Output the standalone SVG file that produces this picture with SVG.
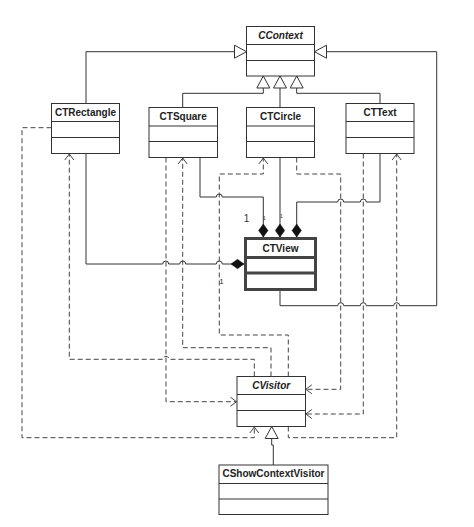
<svg xmlns="http://www.w3.org/2000/svg" width="474" height="527" viewBox="0 0 474 527">
<defs>
<style>
.box{fill:#fff;stroke:#333;stroke-width:1}
.thick{fill:#fff;stroke:#444;stroke-width:3}
.div{stroke:#333;stroke-width:1}
.divt{stroke:#444;stroke-width:3}
.t{font-family:"Liberation Sans",Arial,sans-serif;font-size:10px;font-weight:bold;fill:#222;text-anchor:middle}
.it{font-style:italic}
.lbl{font-family:"Liberation Sans",Arial,sans-serif;fill:#333;text-anchor:middle}
.sol{fill:none;stroke:#333;stroke-width:1}
.dash{fill:none;stroke:#444;stroke-width:1;stroke-dasharray:5,3}
</style>
<marker id="tri" markerUnits="userSpaceOnUse" viewBox="-14 -8 16 16" markerWidth="16" markerHeight="16" refX="0" refY="0" orient="auto" overflow="visible">
<path d="M0,0 L-12,-6.5 L-12,6.5 Z" fill="#fff" stroke="#333" stroke-width="1"/>
</marker>
<marker id="dia" markerUnits="userSpaceOnUse" viewBox="-15 -6 17 12" markerWidth="17" markerHeight="12" refX="0" refY="0" orient="auto" overflow="visible">
<path d="M0,0 L-6.5,-4.7 L-13,0 L-6.5,4.7 Z" fill="#111" stroke="#111" stroke-width="0.5"/>
</marker>
<marker id="arr" markerUnits="userSpaceOnUse" viewBox="-8 -6 10 12" markerWidth="10" markerHeight="12" refX="0" refY="0" orient="auto" overflow="visible">
<path d="M-6,-4.5 L0,0 L-6,4.5" fill="none" stroke="#444" stroke-width="1"/>
</marker>
</defs>
<rect width="474" height="527" fill="#fff"/>

<g id="connectors">
<!-- generalizations -->
<path class="sol" d="M86,103.5 V51.7 H246.5" marker-end="url(#tri)"/>
<path class="sol" d="M280,291 V305.7 H337.7 a3,3 0 0 1 6,0 H360.3 a3,3 0 0 1 6,0 H393.7 a3,3 0 0 1 6,0 H436.7 V51.7 H314.5" marker-end="url(#tri)"/>
<path class="sol" d="M182.7,107.5 V93.3 H263.3 V76" marker-end="url(#tri)"/>
<path class="sol" d="M280,107.5 V76" marker-end="url(#tri)"/>
<path class="sol" d="M380,103.5 V93.3 H296.7 V76" marker-end="url(#tri)"/>
<path class="sol" d="M273.3,465 V445 H271.7 V426.5" marker-end="url(#tri)"/>
<!-- compositions -->
<path class="sol" d="M200,157.5 V197 H216.3 a3,3 0 0 1 6,0 H263.3 V237" marker-end="url(#dia)"/>
<path class="sol" d="M280,157.5 V237" marker-end="url(#dia)"/>
<path class="sol" d="M380,153.5 V202 H366.3 a3,3 0 0 0 -6,0 H343.7 a3,3 0 0 0 -6,0 H296.7 V237" marker-end="url(#dia)"/>
<path class="sol" d="M86,153.5 V264 H162.7 a3,3 0 0 1 6,0 H179.7 a3,3 0 0 1 6,0 H216.3 a3,3 0 0 1 6,0 H244" marker-end="url(#dia)"/>
<!-- dependencies -->
<path class="dash" d="M51.5,127.7 H22 V437.7 H254.3 V427" marker-end="url(#arr)"/>
<path class="dash" d="M254.3,376.5 V359.3 H169 a3,3 0 0 0 -6,0 H69.3 V154" marker-end="url(#arr)"/>
<path class="dash" d="M166,157.5 V401.7 H236.5" marker-end="url(#arr)"/>
<path class="dash" d="M271,376.5 V347.7 H182.7 V158" marker-end="url(#arr)"/>
<path class="dash" d="M288.3,376.5 V335 H219.3 V174 H263.3 V158" marker-end="url(#arr)"/>
<path class="dash" d="M296.7,157.5 V174 H340.7 V389.3 H305.8" marker-end="url(#arr)"/>
<path class="dash" d="M363.3,153.5 V414 H305.8" marker-end="url(#arr)"/>
<path class="dash" d="M288.3,426.5 V437.7 H396.7 V154" marker-end="url(#arr)"/>
<!-- multiplicities -->
<text class="lbl" x="246.5" y="221.5" font-size="10">1</text>
<text class="lbl" x="264.5" y="219.5" font-size="5">1</text>
<text class="lbl" x="281.5" y="217.5" font-size="5">1</text>
<text class="lbl" x="221.5" y="284" font-size="8">1</text>
</g>

<g id="CContext">
<rect class="box" x="246.5" y="26.5" width="68" height="49.5"/>
<line class="div" x1="246.5" y1="44.5" x2="314.5" y2="44.5"/>
<line class="div" x1="246.5" y1="60.5" x2="314.5" y2="60.5"/>
<text class="t it" x="280.5" y="38.8">CContext</text>
</g>

<g id="CTRectangle">
<rect class="box" x="51.5" y="103.5" width="68" height="50"/>
<line class="div" x1="51.5" y1="121.5" x2="119.5" y2="121.5"/>
<line class="div" x1="51.5" y1="137.5" x2="119.5" y2="137.5"/>
<text class="t" x="85.5" y="116">CTRectangle</text>
</g>

<g id="CTSquare">
<rect class="box" x="149" y="107.5" width="68.5" height="50"/>
<line class="div" x1="149" y1="126" x2="217.5" y2="126"/>
<line class="div" x1="149" y1="141.5" x2="217.5" y2="141.5"/>
<text class="t" x="183.2" y="120.3">CTSquare</text>
</g>

<g id="CTCircle">
<rect class="box" x="246.5" y="107.5" width="68" height="50"/>
<line class="div" x1="246.5" y1="126" x2="314.5" y2="126"/>
<line class="div" x1="246.5" y1="141.5" x2="314.5" y2="141.5"/>
<text class="t" x="280.5" y="120.3">CTCircle</text>
</g>

<g id="CTText">
<rect class="box" x="346" y="103.5" width="68" height="50"/>
<line class="div" x1="346" y1="121.5" x2="414" y2="121.5"/>
<line class="div" x1="346" y1="137.5" x2="414" y2="137.5"/>
<text class="t" x="380" y="116">CTText</text>
</g>

<g id="CTView">
<rect class="thick" x="245.5" y="238.5" width="70" height="51"/>
<line class="divt" x1="245.5" y1="257.5" x2="315.5" y2="257.5"/>
<line class="divt" x1="245.5" y1="273" x2="315.5" y2="273"/>
<text class="t" x="280.5" y="251.5">CTView</text>
</g>

<g id="CVisitor">
<rect class="box" x="237" y="376.5" width="68.5" height="50"/>
<line class="div" x1="237" y1="394.5" x2="305.5" y2="394.5"/>
<line class="div" x1="237" y1="410.5" x2="305.5" y2="410.5"/>
<text class="t it" x="271.2" y="389.3">CVisitor</text>
</g>

<g id="CShowContextVisitor">
<rect class="box" x="219" y="465" width="109" height="49.5"/>
<line class="div" x1="219" y1="483.5" x2="328" y2="483.5"/>
<line class="div" x1="219" y1="499" x2="328" y2="499"/>
<text class="t" x="273.5" y="477">CShowContextVisitor</text>
</g>
</svg>
